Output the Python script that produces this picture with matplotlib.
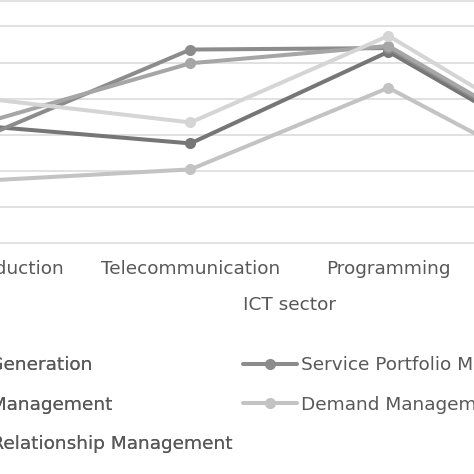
import matplotlib
matplotlib.use("Agg")
from matplotlib import pyplot as plt
from matplotlib.lines import Line2D

# categories and series (only part of the chart is in view)
categories = ["Film production", "Telecommunication", "Programming", "Information services"]
strategy_generation = [1.61, 1.38, 2.65, 1.07]
service_portfolio = [1.52, 2.68, 2.70, 1.12]
financial_mgmt = [1.70, 2.49, 2.73, 1.14]
demand_mgmt = [0.87, 1.02, 2.15, 0.70]
business_rel = [1.99, 1.67, 2.87, 1.23]

series_names = ["Strategy Generation", "Service Portfolio Management",
                "Financial Management", "Demand Management",
                "Business Relationship Management"]
series_vals = [strategy_generation, service_portfolio, financial_mgmt,
               demand_mgmt, business_rel]
series_cols = ["#767676", "#8c8c8c", "#a6a6a6", "#c3c3c3", "#d5d5d5"]

txt_col = "#585858"
grid_col = "#d9d9d9"
FS = 13.3

fig = plt.figure(figsize=(4.74, 4.74), dpi=100)
ax = fig.add_axes([-0.2247, 0.4873, 1.6709, 0.5331])

for name, vals, col in zip(series_names, series_vals, series_cols):
    ax.plot(categories, vals, color=col, lw=2.9, marker="o", ms=7,
            label=name, solid_capstyle="round")

ax.set_xlim(-0.5, 3.5)
ax.set_ylim(0, 3.5)
ax.set_yticks([0.5, 1, 1.5, 2, 2.5, 3, 3.5])
ax.yaxis.grid(True, color=grid_col, lw=1.1)
ax.set_axisbelow(True)
for s in ["left", "right", "top"]:
    ax.spines[s].set_visible(False)
ax.spines["bottom"].set_color(grid_col)
ax.spines["bottom"].set_linewidth(1.1)
ax.tick_params(axis="x", length=0, pad=12.5, labelsize=FS, labelcolor=txt_col)
ax.tick_params(axis="y", length=0, labelleft=False)
ax.set_xlabel("ICT sector", fontsize=FS, color=txt_col, labelpad=13)

# thin border line at the very top
fig.add_artist(Line2D([0, 1], [0.998, 0.998], color="#e2e2e2", lw=1.5))

# legend split in two columns so each can be placed
h, l = ax.get_legend_handles_labels()
kw = dict(frameon=False, fontsize=FS, labelcolor=txt_col, borderpad=0,
          borderaxespad=0, handlelength=2.92, handletextpad=0.22,
          labelspacing=1.17, loc="upper left")
leg1 = fig.legend([h[0], h[2], h[4]], [l[0], l[2], l[4]],
                  bbox_to_anchor=(-154 / 474, 0.249), **kw)
fig.add_artist(leg1)
fig.legend([h[1], h[3]], [l[1], l[3]],
           bbox_to_anchor=(243 / 474, 0.249), **kw)

fig.savefig("out.png", dpi=100)
